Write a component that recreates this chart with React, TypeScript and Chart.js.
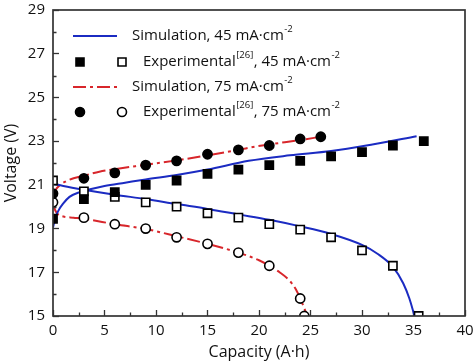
import { useEffect, useRef } from 'react';
import { Chart, registerables } from 'chart.js';

Chart.register(...registerables);

// ---- Data ----
const sim45DisX = [0, 1, 3, 6, 9, 12, 15, 18, 21, 24, 27, 30, 31.5, 33, 34, 34.6, 35.1];
const sim45DisY = [21.05, 20.95, 20.78, 20.55, 20.35, 20.12, 19.9, 19.65, 19.4, 19.1, 18.75, 18.25, 17.85, 17.25, 16.5, 15.8, 15.0];

const sim45ChgX = [0, 0.2, 0.5, 1, 1.6, 2.6, 3.6, 5, 7, 9, 12, 15, 19, 23, 27, 31, 35.3];
const sim45ChgY = [19.05, 19.45, 19.8, 20.15, 20.45, 20.67, 20.8, 20.95, 21.1, 21.25, 21.45, 21.7, 22.1, 22.35, 22.55, 22.85, 23.22];

const sim75ChgX = [0, 0.3, 0.7, 1.2, 2, 3, 4.5, 6, 9, 12, 15, 18, 19, 21, 24, 26];
const sim75ChgY = [20.5, 20.8, 21.0, 21.15, 21.3, 21.42, 21.6, 21.72, 21.92, 22.12, 22.35, 22.6, 22.7, 22.85, 23.05, 23.2];

const sim75DisX = [0, 0.2, 0.5, 1, 2, 3, 6, 9, 12, 15, 18, 20, 21, 22, 23, 23.6, 24.1, 24.4, 24.7];
const sim75DisY = [20.15, 19.85, 19.65, 19.55, 19.5, 19.45, 19.2, 18.98, 18.65, 18.3, 17.9, 17.55, 17.3, 17.0, 16.6, 16.2, 15.7, 15.35, 15.0];

const exp45ChgX = [0, 3, 6, 9, 12, 15, 18, 21, 24, 27, 30, 33, 36];
const exp45ChgY = [19.45, 20.35, 20.67, 21.0, 21.2, 21.5, 21.7, 21.9, 22.1, 22.3, 22.5, 22.8, 23.0];

const exp45DisX = [0, 3, 6, 9, 12, 15, 18, 21, 24, 27, 30, 33, 35.5];
const exp45DisY = [21.2, 20.7, 20.45, 20.2, 20.0, 19.7, 19.5, 19.2, 18.95, 18.6, 18.0, 17.3, 15.0];

const exp75ChgX = [0, 3, 6, 9, 12, 15, 18, 21, 24, 26];
const exp75ChgY = [20.6, 21.3, 21.55, 21.9, 22.1, 22.4, 22.6, 22.8, 23.1, 23.2];

const exp75DisX = [0, 3, 6, 9, 12, 15, 18, 21, 24, 24.4];
const exp75DisY = [20.2, 19.5, 19.2, 19.0, 18.6, 18.3, 17.9, 17.3, 15.8, 15.0];

const xMinorTicks = [2.5, 7.5, 12.5, 17.5, 22.5, 27.5, 32.5, 37.5];
const yMinorTicks = [16, 18, 20, 22, 24, 26, 28];

const legendSimText = ['Simulation, 45 mA·cm', 'Simulation, 75 mA·cm'];
const legendExpText = ['Experimental', ', 45 mA·cm', ', 75 mA·cm'];
const refText = '[26]';
const unitSup = '-2';

// ---- Styles ----
const BLUE = '#1b2bc2';
const RED = '#d8262b';
const AXIS = '#333333';
const FONT = "'Open Sans', sans-serif";
const DASHDOT = [13, 4, 3, 4];

const pts = (xs: number[], ys: number[]) => xs.map((x, i) => ({ x, y: ys[i] }));

function drawRich(ctx: CanvasRenderingContext2D, x: number, y: number, parts: { t: string; sup?: boolean }[]) {
  let cx = x;
  for (const p of parts) {
    if (p.sup) {
      ctx.font = `9.5px ${FONT}`;
      ctx.fillText(p.t, cx + 0.5, y - 6.5);
      cx += ctx.measureText(p.t).width + 1;
    } else {
      ctx.font = `15px ${FONT}`;
      ctx.fillText(p.t, cx, y);
      cx += ctx.measureText(p.t).width;
    }
  }
}

function drawMarker(ctx: CanvasRenderingContext2D, kind: string, x: number, y: number) {
  ctx.save();
  ctx.lineWidth = 1.6;
  ctx.strokeStyle = '#000';
  ctx.fillStyle = kind.startsWith('filled') ? '#000' : '#fff';
  ctx.beginPath();
  if (kind.endsWith('Square')) {
    ctx.rect(x - 4, y - 4, 8, 8);
  } else {
    ctx.arc(x, y, 4.5, 0, Math.PI * 2);
  }
  ctx.fill();
  ctx.stroke();
  ctx.restore();
}

const framePlugin = {
  id: 'frameAndMinor',
  afterDraw(chart: any) {
    const { ctx, chartArea: a, scales } = chart;
    ctx.save();
    ctx.strokeStyle = AXIS;
    ctx.lineWidth = 1.3;
    ctx.beginPath();
    for (const v of xMinorTicks) {
      const px = Math.round(scales.x.getPixelForValue(v)) + 0.5;
      ctx.moveTo(px, a.bottom);
      ctx.lineTo(px, a.bottom - 3.5);
    }
    for (const v of yMinorTicks) {
      const py = Math.round(scales.y.getPixelForValue(v)) + 0.5;
      ctx.moveTo(a.left, py);
      ctx.lineTo(a.left + 3.5, py);
    }
    ctx.stroke();
    ctx.lineWidth = 1.7;
    ctx.strokeRect(a.left, a.top, a.right - a.left, a.bottom - a.top);
    ctx.restore();
  },
};

const legendPlugin = {
  id: 'customLegend',
  afterDatasetsDraw(chart: any) {
    const { ctx, chartArea: a } = chart;
    const l = a.left;
    const rows = [a.top + 26, a.top + 52, a.top + 77, a.top + 102];
    ctx.save();
    ctx.textBaseline = 'middle';
    ctx.fillStyle = '#111';
    // row 1
    ctx.strokeStyle = BLUE;
    ctx.lineWidth = 2;
    ctx.setLineDash([]);
    ctx.beginPath();
    ctx.moveTo(l + 20, rows[0]);
    ctx.lineTo(l + 64, rows[0]);
    ctx.stroke();
    ctx.fillStyle = '#111';
    drawRich(ctx, l + 79, rows[0], [{ t: legendSimText[0] }, { t: unitSup, sup: true }]);
    // row 2
    drawMarker(ctx, 'filledSquare', l + 27, rows[1]);
    drawMarker(ctx, 'openSquare', l + 69, rows[1]);
    ctx.fillStyle = '#111';
    drawRich(ctx, l + 90, rows[1], [
      { t: legendExpText[0] },
      { t: refText, sup: true },
      { t: legendExpText[1] },
      { t: unitSup, sup: true },
    ]);
    // row 3
    ctx.strokeStyle = RED;
    ctx.lineWidth = 2;
    ctx.setLineDash(DASHDOT);
    ctx.beginPath();
    ctx.moveTo(l + 20, rows[2]);
    ctx.lineTo(l + 64, rows[2]);
    ctx.stroke();
    ctx.setLineDash([]);
    ctx.fillStyle = '#111';
    drawRich(ctx, l + 79, rows[2], [{ t: legendSimText[1] }, { t: unitSup, sup: true }]);
    // row 4
    drawMarker(ctx, 'filledCircle', l + 27, rows[3]);
    drawMarker(ctx, 'openCircle', l + 69, rows[3]);
    ctx.fillStyle = '#111';
    drawRich(ctx, l + 90, rows[3], [
      { t: legendExpText[0] },
      { t: refText, sup: true },
      { t: legendExpText[2] },
      { t: unitSup, sup: true },
    ]);
    ctx.restore();
  },
};

export default function App() {
  const ref = useRef<HTMLCanvasElement>(null);

  useEffect(() => {
    if (!ref.current) return;
    Chart.defaults.font.family = FONT;
    const lineDs = (label: string, xs: number[], ys: number[], color: string, dash: number[]) => ({
      type: 'line' as const,
      label,
      data: pts(xs, ys),
      borderColor: color,
      backgroundColor: color,
      borderWidth: 2,
      borderDash: dash,
      pointRadius: 0,
      cubicInterpolationMode: 'monotone' as const,
      fill: false,
      order: 2,
      clip: 0,
    });
    const ptDs = (label: string, xs: number[], ys: number[], style: string, filled: boolean) => ({
      type: 'scatter' as const,
      label,
      data: pts(xs, ys),
      pointStyle: style,
      pointRadius: style === 'rect' ? 5.8 : 4.6,
      pointBorderWidth: 1.6,
      pointBorderColor: '#000',
      pointBackgroundColor: filled ? '#000' : '#fff',
      showLine: false,
      order: 1,
      clip: 0,
    });
    const zeroPad = (s: any) => {
      s.paddingLeft = 0;
      s.paddingRight = 0;
      s.paddingTop = 0;
      s.paddingBottom = 0;
    };

    const chart = new Chart(ref.current, {
      type: 'scatter',
      data: {
        datasets: [
          lineDs('Simulation, 45 discharge', sim45DisX, sim45DisY, BLUE, []),
          lineDs('Simulation, 45 charge', sim45ChgX, sim45ChgY, BLUE, []),
          lineDs('Simulation, 75 charge', sim75ChgX, sim75ChgY, RED, DASHDOT),
          lineDs('Simulation, 75 discharge', sim75DisX, sim75DisY, RED, DASHDOT),
          ptDs('Exp 45 charge', exp45ChgX, exp45ChgY, 'rect', true),
          ptDs('Exp 45 discharge', exp45DisX, exp45DisY, 'rect', false),
          ptDs('Exp 75 charge', exp75ChgX, exp75ChgY, 'circle', true),
          ptDs('Exp 75 discharge', exp75DisX, exp75DisY, 'circle', false),
        ] as any,
      },
      options: {
        responsive: false,
        animation: false,
        devicePixelRatio: 1,
        layout: { autoPadding: false, padding: { top: 10, right: 9, left: 0, bottom: 0 } },
        plugins: { legend: { display: false }, tooltip: { enabled: false } },
        scales: {
          x: {
            type: 'linear',
            min: 0,
            max: 40,
            afterFit: (s: any) => { s.height = 48; zeroPad(s); },
            ticks: { stepSize: 5, color: '#111', font: { size: 15, family: FONT }, padding: 12, maxRotation: 0, autoSkip: false },
            grid: { drawOnChartArea: false, tickLength: -6, tickColor: AXIS, tickWidth: 1.3 },
            border: { display: false },
            title: { display: true, text: 'Capacity (A·h)', color: '#111', font: { size: 16, family: FONT }, padding: { top: 0, bottom: 2 } },
          },
          y: {
            type: 'linear',
            min: 15,
            max: 29,
            afterFit: (s: any) => { s.width = 53; zeroPad(s); },
            ticks: { stepSize: 2, color: '#111', font: { size: 15, family: FONT }, padding: 14, autoSkip: false },
            grid: { drawOnChartArea: false, tickLength: -6, tickColor: AXIS, tickWidth: 1.3 },
            border: { display: false },
            title: { display: true, text: 'Voltage (V)', color: '#111', font: { size: 16, family: FONT }, padding: { top: 2, bottom: 0 } },
          },
        },
      },
      plugins: [framePlugin, legendPlugin],
    } as any);
    return () => chart.destroy();
  }, []);

  return (
    <div style={{ position: 'fixed', left: 0, top: 0, width: 474, height: 364, background: '#fff' }}>
      <canvas ref={ref} width={474} height={364} />
    </div>
  );
}
